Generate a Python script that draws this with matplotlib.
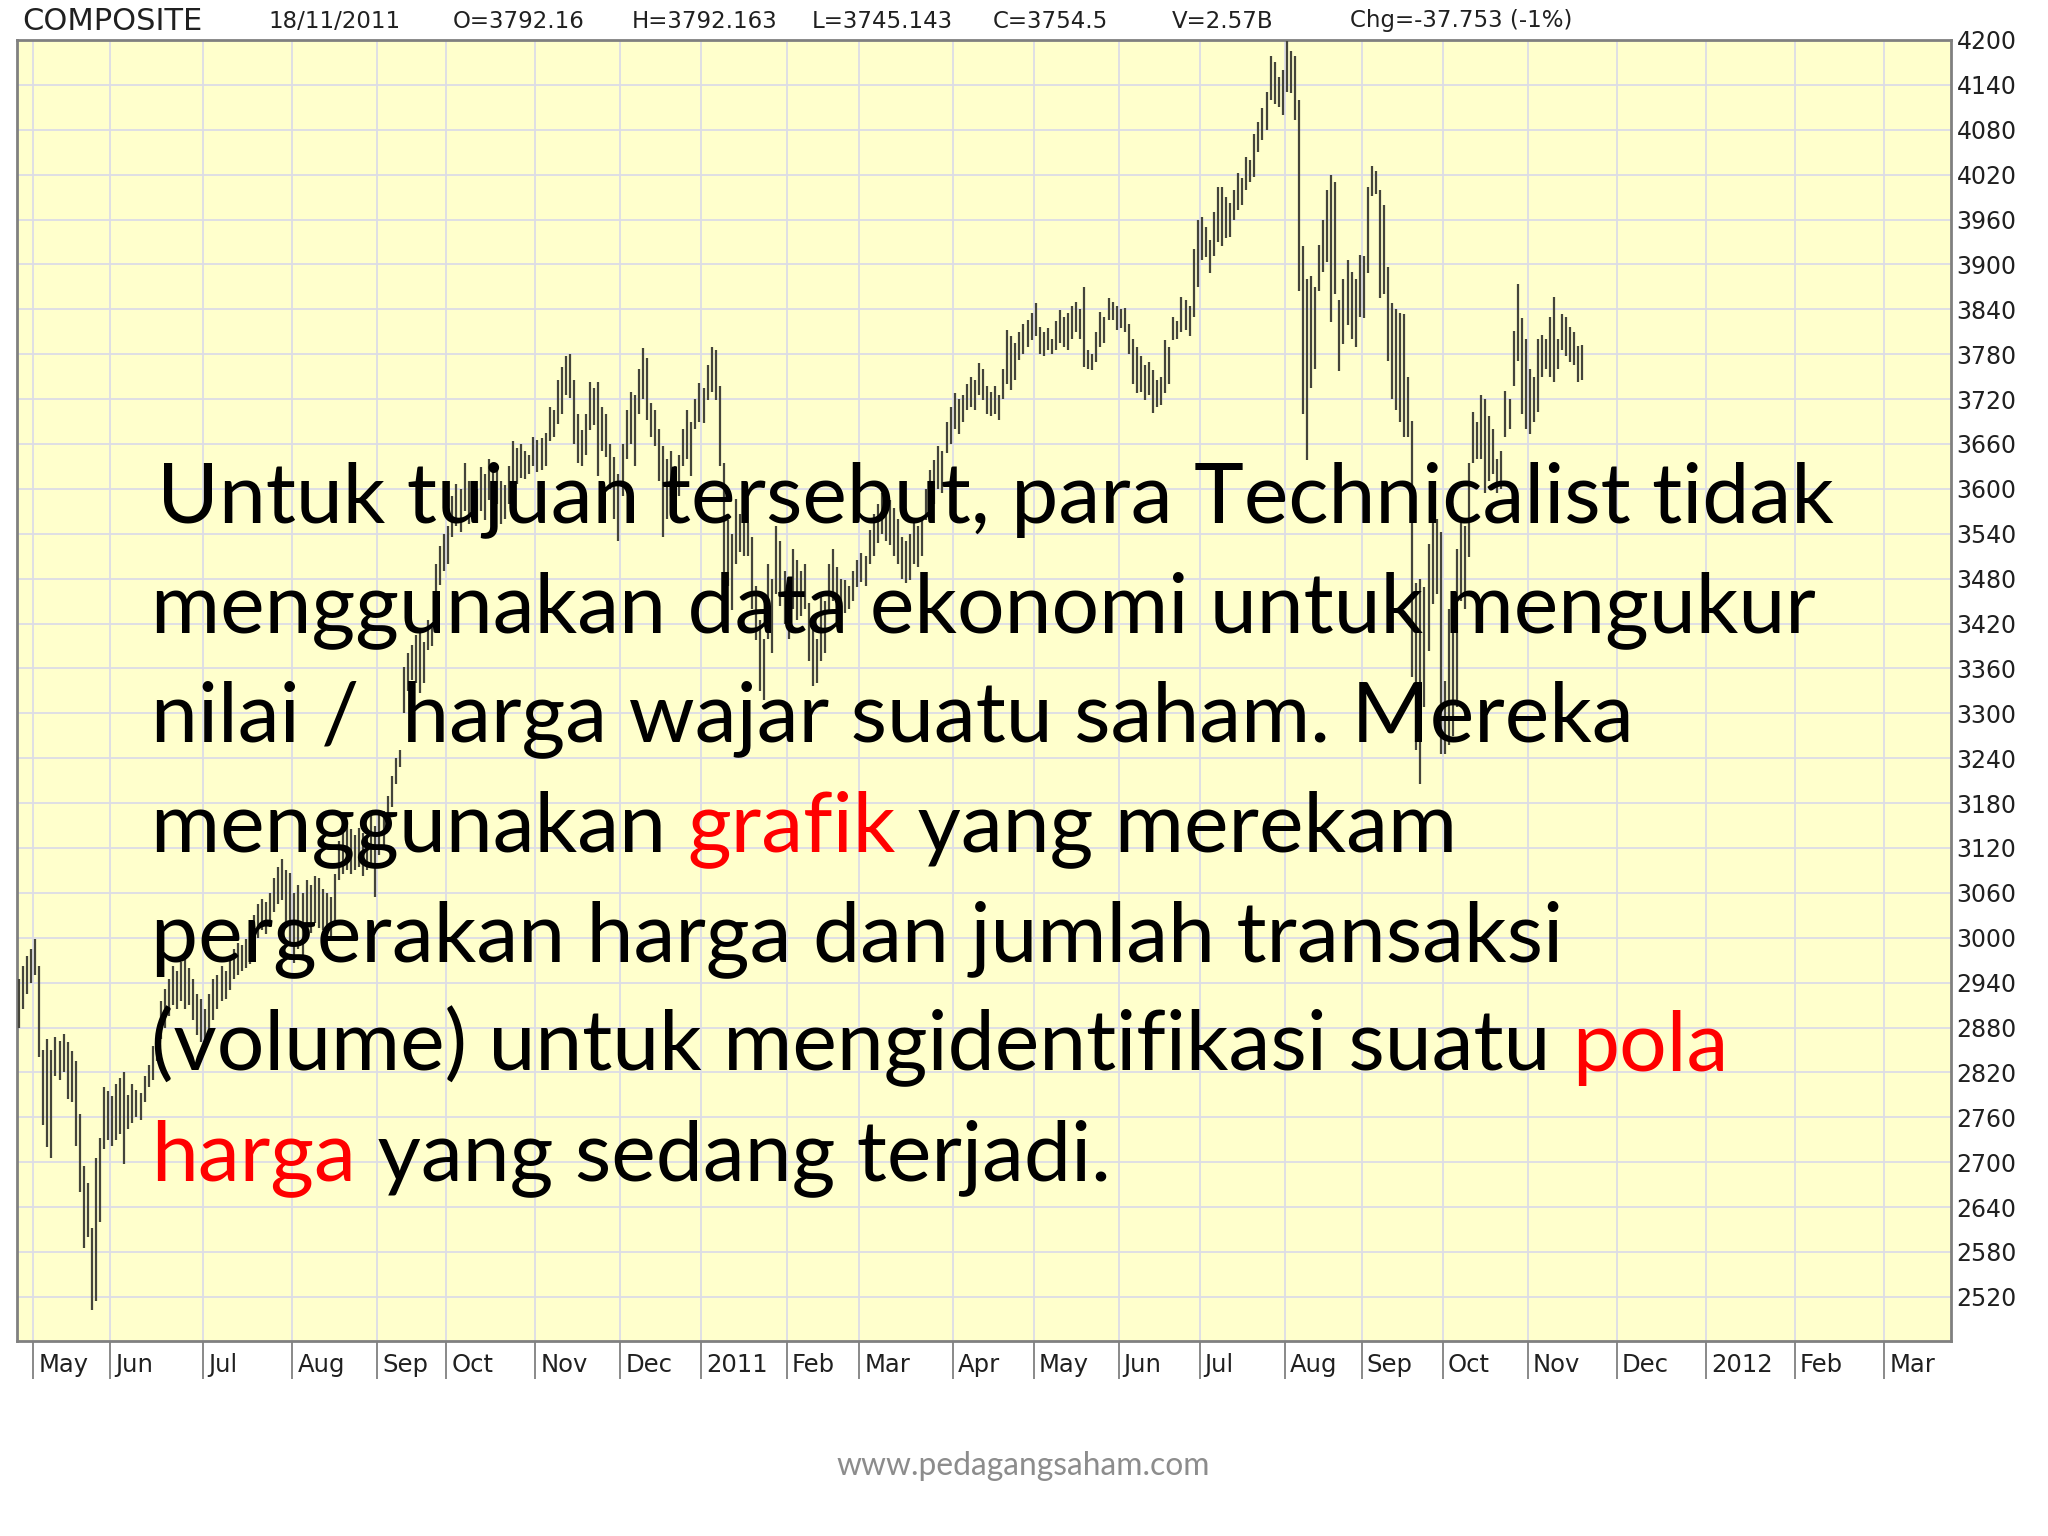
"""COMPOSITE daily bars 2010-2011 with slide text overlay"""
import matplotlib
matplotlib.use('Agg')
import matplotlib.pyplot as plt
import matplotlib.transforms as mtransforms
import numpy as np

W, H = 2048, 1536

# ── data ────────────────────────────────────────────────────────────
# trading days before the first month tick, then trading days per month
LEAD_DAYS = 4
MONTH_LABELS = ['May', 'Jun', 'Jul', 'Aug', 'Sep', 'Oct', 'Nov', 'Dec', '2011', 'Feb', 'Mar',
                'Apr', 'May', 'Jun', 'Jul', 'Aug', 'Sep', 'Oct', 'Nov', 'Dec', '2012', 'Feb', 'Mar']
MONTH_DAYS = [19, 23, 22, 21, 17, 22, 21, 20, 21, 18, 23,
              20, 21, 20, 21, 19, 20, 21, 22, 22, 22, 22]
TAIL_DAYS = 16.5

HIGH = [
    2945, 2962, 2975, 2985, 2998, 2962, 2850, 2865, 2850, 2868,
    2862, 2872, 2860, 2848, 2835, 2765, 2695, 2672, 2612, 2705,
    2732, 2800, 2795, 2788, 2805, 2812, 2820, 2790, 2805, 2796,
    2793, 2815, 2830, 2855, 2870, 2915, 2932, 2945, 2962, 2955,
    2968, 2972, 2960, 2945, 2925, 2918, 2905, 2925, 2945, 2950,
    2962, 2955, 2975, 2985, 2993, 2990, 2998, 3010, 3030, 3045,
    3052, 3048, 3060, 3080, 3095, 3105, 3090, 3086, 3060, 3071,
    3060, 3077, 3070, 3083, 3080, 3065, 3060, 3055, 3085, 3130,
    3140, 3150, 3145, 3138, 3147, 3140, 3135, 3164, 3150, 3165,
    3170, 3190, 3216, 3240, 3251, 3362, 3380, 3391, 3405, 3408,
    3395, 3425, 3420, 3500, 3524, 3540, 3550, 3590, 3606, 3600,
    3635, 3611, 3595, 3600, 3629, 3620, 3640, 3632, 3625, 3611,
    3605, 3630, 3664, 3655, 3660, 3650, 3645, 3670, 3665, 3668,
    3675, 3710, 3705, 3745, 3763, 3777, 3780, 3745, 3700, 3679,
    3700, 3743, 3735, 3743, 3710, 3700, 3660, 3643, 3620, 3660,
    3705, 3730, 3725, 3760, 3788, 3775, 3715, 3705, 3680, 3657,
    3640, 3650, 3630, 3645, 3680, 3706, 3690, 3720, 3741, 3735,
    3765, 3790, 3785, 3737, 3634, 3559, 3540, 3587, 3567, 3560,
    3555, 3536, 3470, 3425, 3400, 3500, 3480, 3550, 3530, 3490,
    3480, 3519, 3505, 3490, 3500, 3447, 3420, 3400, 3460, 3450,
    3500, 3519, 3495, 3480, 3478, 3470, 3490, 3505, 3514, 3510,
    3545, 3567, 3580, 3594, 3590, 3585, 3575, 3560, 3536, 3530,
    3540, 3558, 3550, 3560, 3600, 3625, 3639, 3657, 3650, 3690,
    3710, 3728, 3720, 3725, 3740, 3750, 3745, 3768, 3760, 3737,
    3730, 3737, 3725, 3760, 3812, 3805, 3795, 3810, 3820, 3826,
    3835, 3848, 3817, 3810, 3815, 3800, 3825, 3839, 3830, 3835,
    3845, 3850, 3840, 3870, 3786, 3780, 3810, 3837, 3830, 3855,
    3850, 3844, 3840, 3842, 3821, 3800, 3790, 3777, 3765, 3770,
    3759, 3745, 3750, 3799, 3790, 3830, 3825, 3857, 3852, 3845,
    3920, 3960, 3964, 3950, 3933, 3970, 4004, 4004, 3990, 3982,
    4000, 4022, 4015, 4044, 4040, 4075, 4090, 4109, 4130, 4178,
    4170, 4150, 4160, 4198, 4185, 4178, 4120, 3924, 3880, 3884,
    3870, 3926, 3960, 4000, 4020, 4010, 3853, 3880, 3906, 3890,
    3880, 3913, 3911, 4003, 4031, 4025, 4000, 3980, 3897, 3849,
    3840, 3835, 3834, 3749, 3691, 3474, 3480, 3469, 3526, 3571,
    3560, 3543, 3343, 3440, 3430, 3520, 3554, 3550, 3634, 3703,
    3690, 3726, 3720, 3697, 3680, 3640, 3650, 3731, 3720, 3811,
    3874, 3829, 3800, 3760, 3750, 3800, 3806, 3800, 3830, 3857,
    3800, 3834, 3830, 3817, 3810, 3791, 3792,
]
LOW = [
    2880, 2905, 2925, 2940, 2950, 2840, 2750, 2720, 2705, 2815,
    2810, 2820, 2785, 2780, 2722, 2660, 2585, 2600, 2502, 2515,
    2620, 2718, 2730, 2722, 2730, 2738, 2698, 2745, 2752, 2760,
    2757, 2780, 2800, 2810, 2835, 2865, 2880, 2895, 2910, 2905,
    2915, 2905, 2910, 2890, 2870, 2860, 2862, 2875, 2890, 2905,
    2915, 2918, 2930, 2945, 2950, 2955, 2960, 2965, 2990, 3000,
    3010, 3005, 3015, 3035, 3045, 3050, 3013, 2990, 2966, 2985,
    2972, 3010, 3007, 3020, 3013, 3010, 3005, 3000, 3019, 3077,
    3085, 3090, 3085, 3090, 3095, 3083, 3090, 3100, 3054, 3110,
    3120, 3150, 3175, 3205, 3228, 3300, 3330, 3345, 3340, 3327,
    3340, 3385, 3390, 3440, 3472, 3490, 3500, 3536, 3550, 3542,
    3570, 3553, 3560, 3555, 3570, 3559, 3585, 3577, 3580, 3553,
    3560, 3580, 3610, 3606, 3615, 3613, 3620, 3630, 3623, 3625,
    3630, 3664, 3670, 3687, 3700, 3725, 3722, 3660, 3635, 3630,
    3645, 3679, 3685, 3617, 3650, 3643, 3600, 3560, 3530, 3590,
    3640, 3660, 3630, 3700, 3720, 3692, 3670, 3657, 3610, 3536,
    3560, 3590, 3568, 3590, 3630, 3640, 3617, 3680, 3690, 3688,
    3719, 3730, 3719, 3630, 3447, 3470, 3438, 3500, 3515, 3510,
    3510, 3440, 3398, 3330, 3318, 3400, 3380, 3460, 3443, 3420,
    3400, 3440, 3425, 3430, 3440, 3370, 3336, 3340, 3370, 3380,
    3434, 3450, 3440, 3430, 3434, 3440, 3450, 3469, 3475, 3470,
    3500, 3510, 3527, 3540, 3530, 3525, 3510, 3500, 3480, 3474,
    3478, 3500, 3496, 3510, 3558, 3570, 3580, 3600, 3594, 3648,
    3660, 3680, 3674, 3690, 3705, 3710, 3705, 3725, 3719, 3700,
    3697, 3700, 3692, 3720, 3740, 3732, 3745, 3772, 3780, 3790,
    3799, 3805, 3780, 3777, 3785, 3780, 3786, 3795, 3790, 3786,
    3800, 3810, 3800, 3763, 3760, 3759, 3770, 3790, 3795, 3826,
    3826, 3812, 3815, 3810, 3780, 3740, 3728, 3730, 3719, 3725,
    3701, 3710, 3712, 3728, 3740, 3799, 3800, 3810, 3812, 3804,
    3830, 3870, 3906, 3910, 3888, 3911, 3930, 3924, 3935, 3937,
    3960, 3973, 3980, 3999, 4010, 4017, 4050, 4066, 4080, 4120,
    4115, 4110, 4100, 4130, 4129, 4093, 3864, 3700, 3639, 3735,
    3760, 3864, 3890, 3903, 3823, 3860, 3757, 3794, 3819, 3800,
    3790, 3830, 3829, 3888, 3991, 3994, 3855, 3860, 3771, 3720,
    3706, 3690, 3669, 3669, 3349, 3251, 3206, 3309, 3383, 3446,
    3460, 3246, 3246, 3257, 3270, 3309, 3450, 3440, 3509, 3634,
    3640, 3640, 3594, 3611, 3620, 3594, 3600, 3669, 3680, 3737,
    3771, 3700, 3680, 3674, 3690, 3703, 3750, 3760, 3750, 3743,
    3760, 3785, 3777, 3770, 3766, 3743, 3745,
]

Y_TICKS = list(range(2520, 4201, 60))

HEADER = ['COMPOSITE', '18/11/2011', 'O=3792.16', 'H=3792.163', 'L=3745.143',
          'C=3754.5', 'V=2.57B', 'Chg=-37.753 (-1%)']

SLIDE_LINES = [
    [('Untuk tujuan tersebut, para Technicalist tidak', 'k')],
    [('menggunakan data ekonomi untuk mengukur', 'k')],
    [('nilai /  harga wajar suatu saham. Mereka', 'k')],
    [('menggunakan ', 'k'), ('grafik', 'r'), (' yang merekam', 'k')],
    [('pergerakan harga dan jumlah transaksi', 'k')],
    [('(volume) untuk mengidentifikasi suatu ', 'k'), ('pola', 'r')],
    [('harga', 'r'), (' yang sedang terjadi.', 'k')],
]
FOOTER = 'www.pedagangsaham.com'

COLORS = {'k': '#000000', 'r': '#FF0000'}


def px_box(l, t, r, b):
    return [l / W, 1 - b / H, (r - l) / W, (b - t) / H]


fig = plt.figure(figsize=(W / 100, H / 100), dpi=100)
fig.patch.set_facecolor('#FFFFFF')

ax = fig.add_axes(px_box(17, 40, 1951, 1341))
ax.set_facecolor('#FFFFCC')

n = len(HIGH)
idx = np.arange(n)
ax.vlines(idx, LOW, HIGH, colors='#44443a', lw=1.6, zorder=3)

# month ticks
month_pos = LEAD_DAYS + np.concatenate([[0], np.cumsum(MONTH_DAYS)]) - 0.5
ax.set_xlim(-0.5, month_pos[-1] + TAIL_DAYS)
ax.set_ylim(2461, 4200)

ax.set_xticks(month_pos)
ax.set_xticklabels([''] * len(month_pos))
ax.tick_params(axis='x', length=27, width=1.3, color='#808080', direction='out')
ax.set_yticks(Y_TICKS)
ax.yaxis.tick_right()
ax.tick_params(axis='y', length=0, pad=4, labelsize=17, labelcolor='#202020')
for lbl in ax.get_yticklabels():
    lbl.set_family('DejaVu Sans')
ax.grid(True, color='#DCDCE6', lw=1.3, zorder=1)
ax.set_axisbelow(True)
for sp in ax.spines.values():
    sp.set_color('#808080')
    sp.set_linewidth(2)

trans = mtransforms.blended_transform_factory(ax.transData, ax.transAxes)
trans = mtransforms.offset_copy(trans, fig=fig, x=5, y=-12, units='dots')
for p, lab in zip(month_pos, MONTH_LABELS):
    ax.text(p, 0, lab, transform=trans, ha='left', va='top',
            fontsize=17.5, color='#202020', family='DejaVu Sans')

# header row
head_x = [22, 268, 453, 632, 812, 993, 1172, 1350]
for i, (hx, s) in enumerate(zip(head_x, HEADER)):
    fig.text(hx / W, 1 - 21 / H, s, ha='left', va='center',
             fontsize=22 if i == 0 else 16.5, color='#202020', family='DejaVu Sans')

# slide text overlay
renderer = fig.canvas.get_renderer()


def text_w(s, size):
    t = fig.text(0, 0, s, fontsize=size, family='Lato')
    w = t.get_window_extent(renderer).width
    t.remove()
    return w


target = 1680
size = 60 * target / text_w(SLIDE_LINES[0][0][0], 60)

base0, step = 522, 109.7
for li, segs in enumerate(SLIDE_LINES):
    x0 = 157 if li == 0 else 151
    y = base0 + li * step
    prefix = ''
    for s, c in segs:
        if prefix:
            off = text_w(prefix + s, size) - text_w(s, size)
        else:
            off = 0
        fig.text((x0 + off) / W, 1 - y / H, s, ha='left', va='baseline',
                 fontsize=size, color=COLORS[c], family='Lato', zorder=5)
        prefix += s

fsize = 20 * 372 / text_w(FOOTER, 20)
fig.text(1023 / W, 1 - 1466 / H, FOOTER, ha='center', va='center',
         fontsize=fsize, color='#8C8C8C', family='Lato')

fig.savefig('out.png', dpi=100, facecolor='#FFFFFF')
plt.close(fig)
